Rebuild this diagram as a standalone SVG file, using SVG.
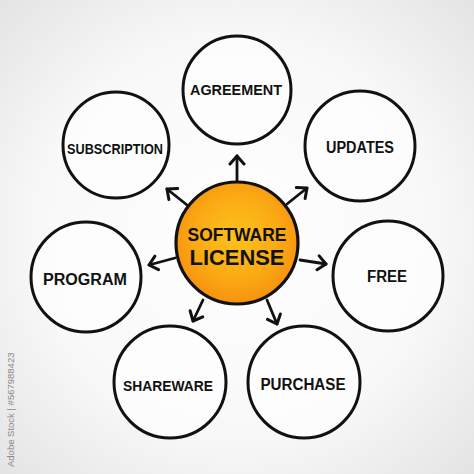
<svg xmlns="http://www.w3.org/2000/svg" width="474" height="474" viewBox="0 0 474 474">
<defs>
<radialGradient id="bg" cx="0.5" cy="0.5" r="0.7">
<stop offset="0" stop-color="#ffffff"/>
<stop offset="0.6" stop-color="#f8f8f8"/>
<stop offset="1" stop-color="#e4e4e4"/>
</radialGradient>
<radialGradient id="orange" cx="0.5" cy="0.45" r="0.55">
<stop offset="0" stop-color="#fcc21c"/>
<stop offset="0.6" stop-color="#fbab14"/>
<stop offset="1" stop-color="#f6920f"/>
</radialGradient>
<marker id="ah" markerUnits="userSpaceOnUse" markerWidth="20" markerHeight="20" refX="10" refY="10" orient="auto">
<path d="M2,3 L10,10 L2,17" fill="none" stroke="#111" stroke-width="3" stroke-linecap="round" stroke-linejoin="round"/>
</marker>
</defs>
<style>
.c{fill:#fff;fill-opacity:0.6;stroke:#111;stroke-width:3}
.t{font-family:"Liberation Sans",Arial,sans-serif;font-weight:bold;fill:#111;text-anchor:middle}
.a{fill:none;stroke:#111;stroke-width:2.8;stroke-linecap:round;marker-end:url(#ah)}
</style>
<rect width="474" height="474" fill="url(#bg)"/>
<text x="0" y="0" transform="translate(14,467) rotate(-90)" font-family="Liberation Sans,Arial,sans-serif" font-size="9.5" fill="#8a8a8a">Adobe Stock | #567988423</text>
<g id="connectors">
<path class="a" d="M237,181 L237,156"/>
<path class="a" d="M187,205 L167,189"/>
<path class="a" d="M287,204 L307,188"/>
<path class="a" d="M175,258 L149,265"/>
<path class="a" d="M300,260 L326,264"/>
<path class="a" d="M203,300 L193,321"/>
<path class="a" d="M267,300 L277,324"/>
</g>
<g id="agreement">
<circle class="c" cx="237" cy="90" r="54"/>
<text class="t" x="236" y="95" font-size="15" textLength="92" lengthAdjust="spacingAndGlyphs">AGREEMENT</text>
</g>
<g id="updates">
<circle class="c" cx="360" cy="146" r="55"/>
<text class="t" x="360" y="153" font-size="16" textLength="68" lengthAdjust="spacingAndGlyphs">UPDATES</text>
</g>
<g id="free">
<circle class="c" cx="388" cy="276" r="55"/>
<text class="t" x="387" y="282" font-size="16" textLength="40" lengthAdjust="spacingAndGlyphs">FREE</text>
</g>
<g id="purchase">
<circle class="c" cx="304" cy="382" r="56"/>
<text class="t" x="303" y="390" font-size="16" textLength="85" lengthAdjust="spacingAndGlyphs">PURCHASE</text>
</g>
<g id="shareware">
<circle class="c" cx="170" cy="382" r="56"/>
<text class="t" x="168" y="391" font-size="15" textLength="90" lengthAdjust="spacingAndGlyphs">SHAREWARE</text>
</g>
<g id="program">
<circle class="c" cx="86" cy="277" r="55"/>
<text class="t" x="85" y="285" font-size="16" textLength="84" lengthAdjust="spacingAndGlyphs">PROGRAM</text>
</g>
<g id="subscription">
<circle class="c" cx="116" cy="145" r="53"/>
<text class="t" x="115" y="154" font-size="15" textLength="96" lengthAdjust="spacingAndGlyphs">SUBSCRIPTION</text>
</g>
<g id="software-license">
<circle cx="237" cy="243" r="61" fill="url(#orange)" stroke="#111" stroke-width="3.2"/>
<text class="t" x="237" y="241" font-size="19" textLength="99" lengthAdjust="spacingAndGlyphs">SOFTWARE</text>
<text class="t" x="237" y="265" font-size="22" textLength="95" lengthAdjust="spacingAndGlyphs">LICENSE</text>
</g>
</svg>
